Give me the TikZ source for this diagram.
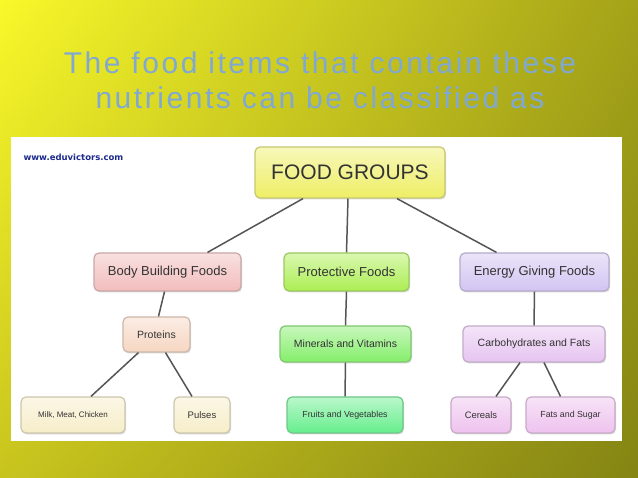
\documentclass[tikz,border=0pt]{standalone}
\usepackage{fontspec}
\setmainfont{Liberation Sans}
\newfontfamily\webfont{DejaVu Sans}
\newfontfamily\titlefont[LetterSpace=8.5]{Liberation Sans}
\usetikzlibrary{shadows,shadings}

\definecolor{bgtl}{HTML}{F8F82A}
\definecolor{bgtr}{HTML}{A4A218}
\definecolor{bgbl}{HTML}{C8C41E}
\definecolor{bgbr}{HTML}{848414}
\definecolor{titleblue}{HTML}{80A8D2}
\definecolor{webblue}{HTML}{1C2A8C}
\definecolor{linkgray}{HTML}{555555}
\definecolor{txtgray}{HTML}{333333}
\definecolor{cfood}{HTML}{EEEE66}
\definecolor{cbody}{HTML}{F2BCBC}
\definecolor{cprot}{HTML}{ACEE52}
\definecolor{cenergy}{HTML}{D2C4F2}
\definecolor{cproteins}{HTML}{F6D6C2}
\definecolor{cminer}{HTML}{84EE6A}
\definecolor{ccarbs}{HTML}{E6C4F0}
\definecolor{ccream}{HTML}{F6EDC8}
\definecolor{cfruit}{HTML}{66EE8C}
\definecolor{cpink}{HTML}{EEC2EE}

\begin{document}
\begin{tikzpicture}[x=1pt, y=-1pt,
    grpbox/.style={rounded corners=5pt, draw=#1!65!gray, line width=1.2pt,
        top color=#1!45!white, bottom color=#1, text=txtgray,
        drop shadow={shadow xshift=1pt, shadow yshift=-1.5pt, opacity=0.3},
        inner sep=0pt, align=center},
    link/.style={draw=linkgray, line width=1.5pt}]

    % slide background
    \useasboundingbox (0,0) rectangle (638,478);
    \shade[upper left=bgtl, upper right=bgtr, lower left=bgbl, lower right=bgbr]
        (0,0) rectangle (638,478);

    % title
    \node[text=titleblue, font=\titlefont\fontsize{30}{35}\selectfont, align=center]
        (title) at (320,80.5) {The food items that contain these\\nutrients can be classified as};

    % white panel
    \fill[white] (11,137) rectangle (622,441);
    \node[anchor=west, text=webblue, font=\webfont\bfseries\fontsize{8.5}{10}\selectfont]
        (web) at (20,157) {www.eduvictors.com};

    % top
    \node[grpbox=cfood, minimum width=190pt, minimum height=51pt,
        font=\fontsize{21}{24}\selectfont] (food) at (350,172.5) {FOOD GROUPS};

    % second row
    \node[grpbox=cbody, minimum width=147pt, minimum height=38pt,
        font=\fontsize{13}{15}\selectfont] (body) at (167.5,272) {Body Building Foods};
    \node[grpbox=cprot, minimum width=125pt, minimum height=38pt,
        font=\fontsize{13}{15}\selectfont] (prot) at (346.5,272) {Protective Foods};
    \node[grpbox=cenergy, minimum width=149pt, minimum height=38pt,
        font=\fontsize{13}{15}\selectfont] (energy) at (534.5,272) {Energy Giving Foods};

    % third row
    \node[grpbox=cproteins, minimum width=67pt, minimum height=35pt,
        font=\fontsize{10.5}{12}\selectfont] (proteins) at (156.5,334.5) {Proteins};
    \node[grpbox=cminer, minimum width=131pt, minimum height=36pt,
        font=\fontsize{10.5}{12}\selectfont] (minerals) at (345.5,344) {Minerals and Vitamins};
    \node[grpbox=ccarbs, minimum width=142pt, minimum height=36pt,
        font=\fontsize{10.5}{12}\selectfont] (carbs) at (534,344) {Carbohydrates and Fats};

    % bottom row
    \node[grpbox=ccream, minimum width=104pt, minimum height=36pt,
        font=\fontsize{8}{10}\selectfont] (milk) at (73,415) {Milk, Meat, Chicken};
    \node[grpbox=ccream, minimum width=56pt, minimum height=36pt,
        font=\fontsize{9.5}{11}\selectfont] (pulses) at (202,415) {Pulses};
    \node[grpbox=cfruit, minimum width=116pt, minimum height=36pt,
        font=\fontsize{8.8}{10}\selectfont] (fruits) at (345,415) {Fruits and Vegetables};
    \node[grpbox=cpink, minimum width=60pt, minimum height=36pt,
        font=\fontsize{9.4}{11}\selectfont] (cereals) at (481,415) {Cereals};
    \node[grpbox=cpink, minimum width=89pt, minimum height=36pt,
        font=\fontsize{8.8}{10}\selectfont] (fatsugar) at (570.5,415) {Fats and Sugar};

    % connectors
    \draw[link] ([xshift=-47pt]food.south) -- ([xshift=40pt]body.north);
    \draw[link] ([xshift=-2pt]food.south) -- (prot.north);
    \draw[link] ([xshift=47pt]food.south) -- ([xshift=-38pt]energy.north);
    \draw[link] ([xshift=-3pt]body.south) -- ([xshift=2pt]proteins.north);
    \draw[link] (prot.south) -- (minerals.north);
    \draw[link] (energy.south) -- (carbs.north);
    \draw[link] ([xshift=-18pt]proteins.south) -- ([xshift=18pt]milk.north);
    \draw[link] ([xshift=9pt]proteins.south) -- ([xshift=-10pt]pulses.north);
    \draw[link] (minerals.south) -- (fruits.north);
    \draw[link] ([xshift=-14pt]carbs.south) -- ([xshift=15pt]cereals.north);
    \draw[link] ([xshift=10pt]carbs.south) -- ([xshift=-10pt]fatsugar.north);
\end{tikzpicture}
\end{document}
